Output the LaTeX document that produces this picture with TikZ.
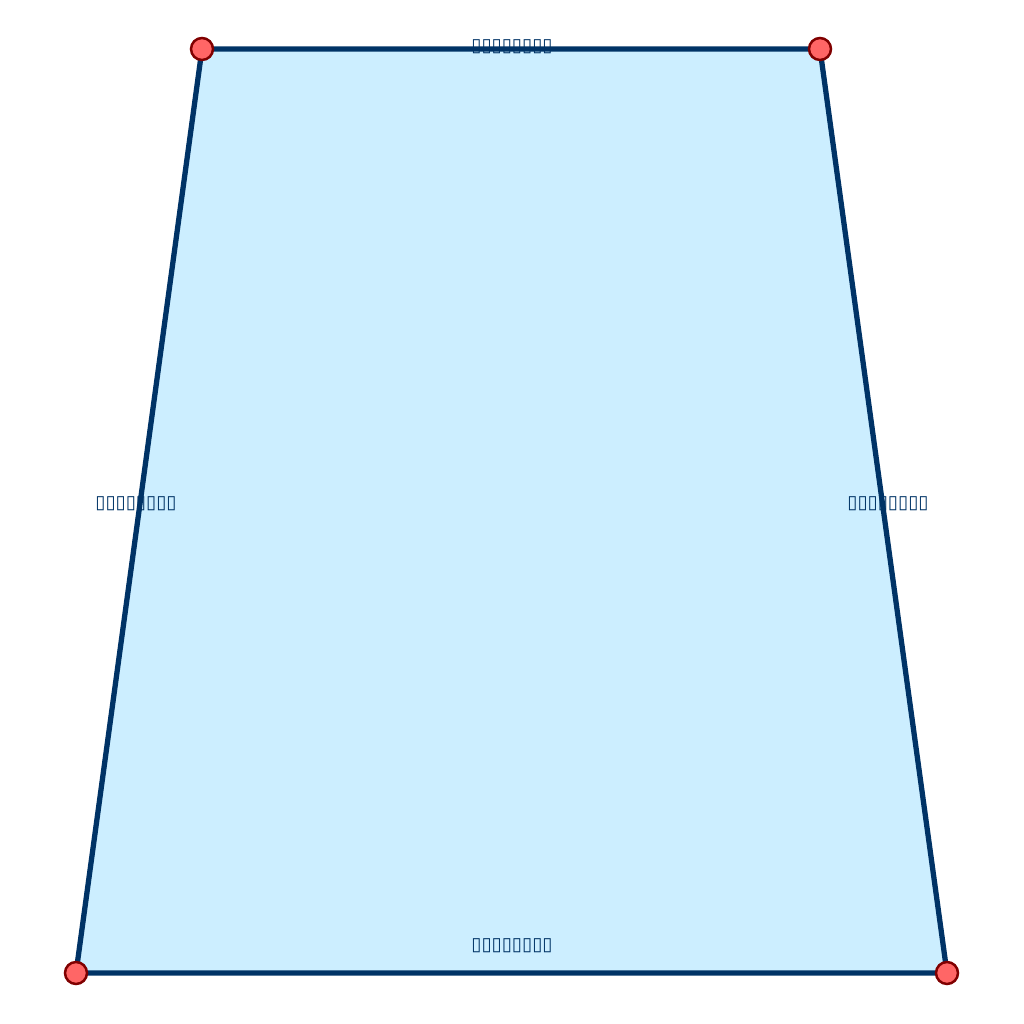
\documentclass[tikz,border=0pt]{standalone}
\usepackage{fontspec}
\newfontfamily\boxfont{DejaVu Sans}
\definecolor{edgeblue}{HTML}{003366}
\definecolor{areablue}{HTML}{CCEEFF}
\definecolor{dotred}{HTML}{FF6666}
\definecolor{dotrim}{HTML}{800000}
\begin{document}
\begin{tikzpicture}[
    vertex/.style={circle, draw=dotrim, fill=dotred, line width=0.7pt, minimum size=0.22cm, inner sep=0pt},
    side/.style={text=edgeblue, font=\boxfont\fontsize{5.25}{6}\selectfont, inner sep=0pt}]
    \useasboundingbox (0,0) rectangle (10.24,10.24);

    % Draw corners
    \coordinate (1) at (0.76, 0.51);
    \coordinate (2) at (9.47, 0.51);
    \coordinate (3) at (8.20, 9.75);
    \coordinate (4) at (2.02, 9.75);

    % Draw edges
    \draw[edgeblue, fill=areablue, line width=1.5pt, line join=round] (1) -- (2) -- (3) -- (4) -- cycle;

    % Draw labels
    \node[side] (top) at (5.12, 9.77) {▯▯▯▯▯▯▯▯};
    \node[side] (bottom) at (5.12, 0.78) {▯▯▯▯▯▯▯▯};
    \node[side] (left) at (1.36, 5.20) {▯▯▯▯▯▯▯▯};
    \node[side] (right) at (8.88, 5.20) {▯▯▯▯▯▯▯▯};

    % Draw nodes
    \foreach \p in {1,2,3,4}
        \node[vertex] (v\p) at (\p) {};
\end{tikzpicture}
\end{document}
